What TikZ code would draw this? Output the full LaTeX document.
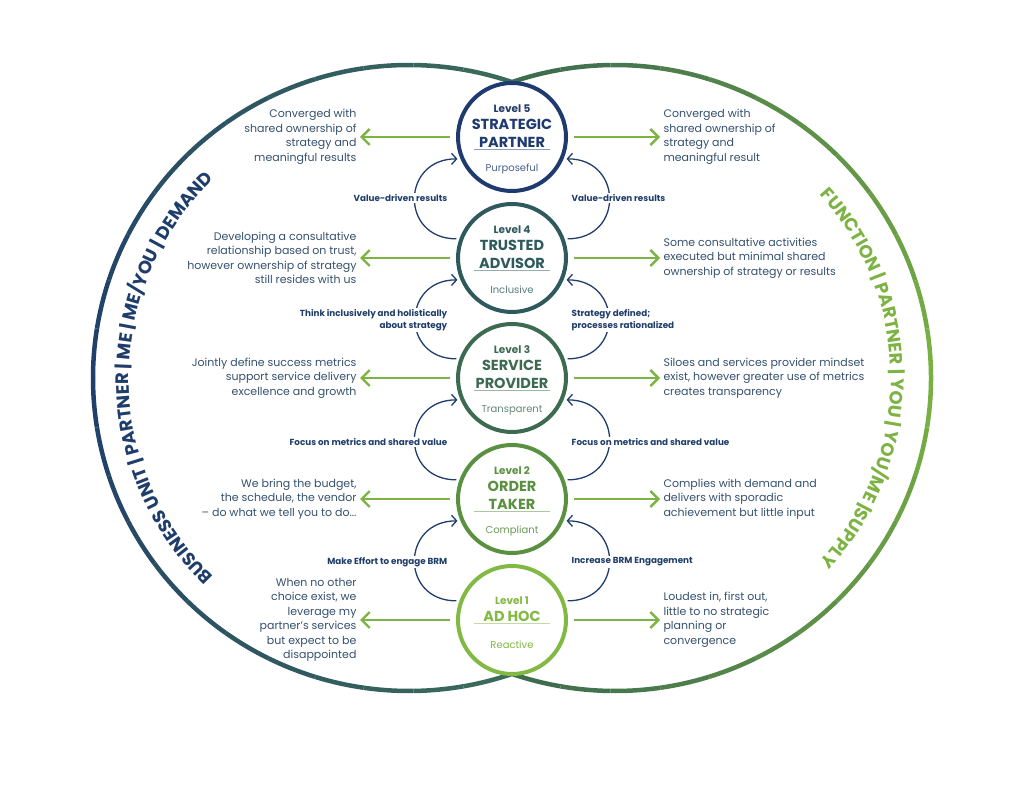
\documentclass[tikz,border=0pt]{standalone}
\usepackage{fontspec}
\setmainfont{Poppins}
\usetikzlibrary{arrows.meta,decorations.text}

\definecolor{navy}{HTML}{1F3D6B}
\definecolor{teal}{HTML}{3A6A5A}
\definecolor{lgreen}{HTML}{7CB342}
\definecolor{dgreen}{HTML}{3D6B4F}
\definecolor{txt}{HTML}{34506E}
\definecolor{lvA}{HTML}{82B944}
\definecolor{lvB}{HTML}{5A9140}
\definecolor{lvC}{HTML}{3D6B52}
\definecolor{lvD}{HTML}{2E5A5E}
\definecolor{lvE}{HTML}{1E3A6E}

\tikzset{
  lvlring/.style={circle,draw=#1,line width=4pt,minimum size=108pt,fill=white},
  sidenote/.style={text=txt,font=\fontsize{11}{14.5}\selectfont},
  stepnote/.style={text=navy,font=\bfseries\fontsize{8.8}{12.5}\selectfont,fill=white,inner sep=1.5pt},
  reach/.style={lgreen,line width=2.8pt,-{Straight Barb[length=8pt,width=16pt,line width=2.4pt]}},
  climb/.style={navy,line width=1.3pt,-{Straight Barb[length=5pt,width=11pt]},shorten >=3pt,shorten <=3pt},
}

% one level circle with its texts
\newcommand{\levelcircle}[6]{%
  \node[lvlring=#2] (#1) at (512,#3) {};
  \node[text=#2,font=\bfseries\fontsize{10.5}{12}\selectfont] at ([yshift=#5]#1.center) {Level #4};
  \node[text=#2,font=\bfseries\fontsize{14.5}{17.5}\selectfont,align=center,anchor=north,inner sep=2pt] (#1t) at ([yshift=#5-8pt]#1.center) {#6};
  \draw[#2!50,line width=0.8pt] ([xshift=-38pt]#1t.south) -- ([xshift=38pt]#1t.south);
}

\begin{document}
\begin{tikzpicture}[x=1pt,y=1pt]
\useasboundingbox (0,0) rectangle (1024,798);

% outer rings
\foreach \i in {0,...,23}{
  \pgfmathsetmacro\a{71+\i*218/24}
  \pgfmathsetmacro\b{71+(\i+1)*218/24}
  \pgfmathsetmacro\p{max(0,100-abs((\a+\b)/2-180)*0.95)}
  \draw[navy!\p!teal,line width=4.5pt] (409,420) ++(\a:316 and 313) arc[start angle=\a,end angle=\b,x radius=316,y radius=313];
  \pgfmathsetmacro\c{109-\i*218/24}
  \pgfmathsetmacro\d{109-(\i+1)*218/24}
  \pgfmathsetmacro\q{max(0,100-abs((\c+\d)/2)*0.95)}
  \draw[lgreen!\q!dgreen,line width=4.5pt] (615,420) ++(\c:316 and 313) arc[start angle=\c,end angle=\d,x radius=316,y radius=313];
}

\path[decorate,decoration={text along path,text format delimiters={[}{]},
  text={[\bfseries\fontsize{18}{18}\selectfont]BUSINESS UNIT | PARTNER | ME | ME/YOU | DEMAND},
  text align=center,text color=navy}]
  (409,420) ++(245:280 and 277) arc[start angle=245,end angle=115,x radius=280,y radius=277];
\path[decorate,decoration={text along path,text format delimiters={[}{]},
  text={[\bfseries\fontsize{18}{18}\selectfont]FUNCTION | PARTNER | YOU | YOU/ME |SUPPLY},
  text align=center,text color=lgreen}]
  (615,420) ++(62:276 and 273) arc[start angle=62,end angle=-62,x radius=276,y radius=273];

% level circles
\levelcircle{l5}{lvE}{661}{5}{28pt}{STRATEGIC\\PARTNER}
\levelcircle{l4}{lvD}{540}{4}{28pt}{TRUSTED\\ADVISOR}
\levelcircle{l3}{lvC}{420}{3}{28pt}{SERVICE\\PROVIDER}
\levelcircle{l2}{lvB}{299}{2}{28pt}{ORDER\\TAKER}
\levelcircle{l1}{lvA}{178}{1}{19pt}{AD HOC}

\node[text=lvE!80,font=\fontsize{10}{11}\selectfont] at ([yshift=-32pt]l5.center) {Purposeful};
\node[text=lvD!80,font=\fontsize{10}{11}\selectfont] at ([yshift=-32pt]l4.center) {Inclusive};
\node[text=lvC!80,font=\fontsize{10}{11}\selectfont] at ([yshift=-32pt]l3.center) {Transparent};
\node[text=lvB!90,font=\fontsize{10}{11}\selectfont] at ([yshift=-32pt]l2.center) {Compliant};
\node[text=lvA,font=\fontsize{10}{11}\selectfont] at ([yshift=-25pt]l1.center) {Reactive};

% side texts
\node[sidenote,align=right,anchor=east] (a5) at (360,661) {Converged with\\shared ownership of\\strategy and\\meaningful results};
\node[sidenote,align=left,anchor=west] (b5) at (660,661) {Converged with\\shared ownership of\\strategy and\\meaningful result};
\node[sidenote,align=right,anchor=east] (a4) at (360,540) {Developing a consultative\\relationship based on trust,\\however ownership of strategy\\still resides with us};
\node[sidenote,align=left,anchor=west] (b4) at (660,540) {Some consultative activities\\executed but minimal shared\\ownership of strategy or results};
\node[sidenote,align=right,anchor=east] (a3) at (360,420) {Jointly define success metrics\\support service delivery\\excellence and growth};
\node[sidenote,align=left,anchor=west] (b3) at (660,420) {Siloes and services provider mindset\\exist, however greater use of metrics\\creates transparency};
\node[sidenote,align=right,anchor=east] (a2) at (360,299) {We bring the budget,\\the schedule, the vendor\\-- do what we tell you to do...};
\node[sidenote,align=left,anchor=west] (b2) at (660,299) {Complies with demand and\\delivers with sporadic\\achievement but little input};
\node[sidenote,align=right,anchor=east] (a1) at (360,178) {When no other\\choice exist, we\\leverage my\\partner's services\\but expect to be\\disappointed};
\node[sidenote,align=left,anchor=west] (b1) at (660,178) {Loudest in, first out,\\little to no strategic\\planning or\\convergence};

\foreach \n in {1,...,5}{
  \draw[reach] (l\n.west) ++(-6pt,0) coordinate (p\n) -- (a\n.east |- p\n);
  \draw[reach] (l\n.east) ++(6pt,0) coordinate (q\n) -- (b\n.west |- q\n);
}

% climbing arrows
\foreach \u/\d in {l5/l4,l4/l3,l3/l2,l2/l1}{
  \draw[climb] (\d.160) to[out=180,in=180,looseness=1.9] (\u.203);
  \draw[climb] (\d.20) to[out=0,in=0,looseness=1.9] (\u.-23);
}

\node[stepnote,anchor=east] at (449,600) {Value-driven results};
\node[stepnote,anchor=west] at (570,600) {Value-driven results};
\node[stepnote,anchor=east,align=right] at (449,478) {Think inclusively and holistically\\about strategy};
\node[stepnote,anchor=west,align=left] at (570,478) {Strategy defined;\\processes rationalized};
\node[stepnote,anchor=east] at (449,356) {Focus on metrics and shared value};
\node[stepnote,anchor=west] at (570,356) {Focus on metrics and shared value};
\node[stepnote,anchor=east] at (449,236) {Make Effort to engage BRM};
\node[stepnote,anchor=west] at (570,236) {Increase BRM Engagement};
\end{tikzpicture}
\end{document}
